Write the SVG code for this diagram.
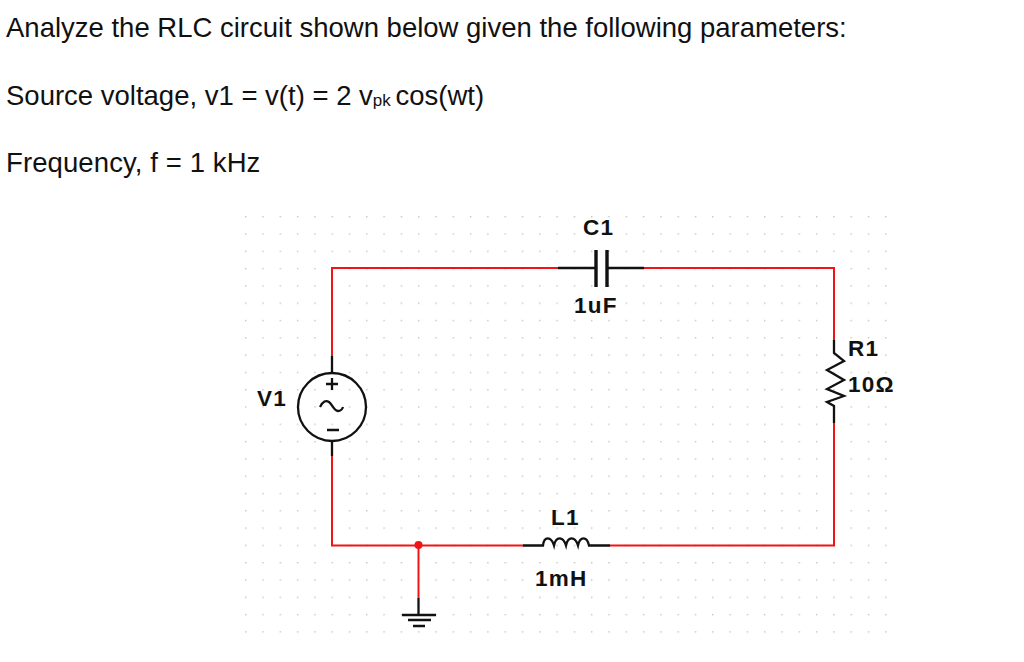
<svg xmlns="http://www.w3.org/2000/svg" width="1024" height="662" viewBox="0 0 1024 662">
<style>
.h{font-family:"Liberation Sans",Arial,sans-serif;font-size:27.5px;fill:#111}
.l{font-family:"Liberation Sans",Arial,sans-serif;font-size:22.5px;font-weight:bold;fill:#111;letter-spacing:1.200px}
.w{fill:none;stroke:#f01414;stroke-width:2}
.k{fill:none;stroke:#111;stroke-width:2.300}
</style>
<defs>
<pattern id="grid" x="245" y="216" width="17.3" height="17.3" patternUnits="userSpaceOnUse"><rect x="0" y="0" width="1.4" height="1.4" fill="#c4c4c4"/></pattern>
</defs>
<rect width="1024" height="662" fill="#fff"/>
<rect x="245" y="216" width="643" height="418" fill="url(#grid)"/>
<text class="h" x="6" y="37">Analyze the RLC circuit shown below given the following parameters:</text>
<text class="h" x="6" y="105">Source voltage, v1 = v(t) = 2 v<tspan font-size="17" dy="1">pk </tspan><tspan dy="-1">cos(wt)</tspan></text>
<text class="h" x="6" y="172" letter-spacing=".1">Frequency, f = 1 kHz</text>
<g id="connectors">
<path class="w" d="M332 356V268H558M644 268H834V340M834 423V545.500H610M523 545.500H332V456M418.500 545.500V598"/>
<circle cx="418.500" cy="545" r="4" fill="#f01414"/>
</g>
<g id="V1">
<path class="k" d="M332 356V373M332 441V456"/>
<circle class="k" cx="332" cy="407" r="34"/>
<path class="k" d="M332 378V390M326 384H338M327 430H339M320 407C323 401 326 400 329 402C332 404 334 411 338 411C340 411 342 410 343 407"/>
<text class="l" x="257" y="405.500">V1</text>
</g>
<g id="C1">
<path class="k" d="M558 268H595M608 268H644"/>
<path d="M596 250V287M607 250V287" fill="none" stroke="#111" stroke-width="3.400"/>
<text class="l" x="583" y="235">C1</text>
<text class="l" x="574" y="313">1uF</text>
</g>
<g id="R1">
<path class="k" d="M834 340V353L844 361L827 370L844 380L827 389L844 396L827 402L834 406V423"/>
<text class="l" x="848" y="355.500">R1</text>
<text class="l" x="848" y="392">10Ω</text>
</g>
<g id="L1">
<path class="k" d="M523 545.500H543C544 536 551 536 554 545.500C556 536 563 536 566 545.500C568 536 575 536 578 545.500C580 536 587 536 589 545.500H610"/>
<text class="l" x="551" y="525">L1</text>
<text class="l" x="535" y="586">1mH</text>
</g>
<g id="GND">
<path class="k" d="M418.500 598V615"/>
<path class="k" d="M402 615H436M408 620H431M413 626H425"/>
</g>
</svg>
